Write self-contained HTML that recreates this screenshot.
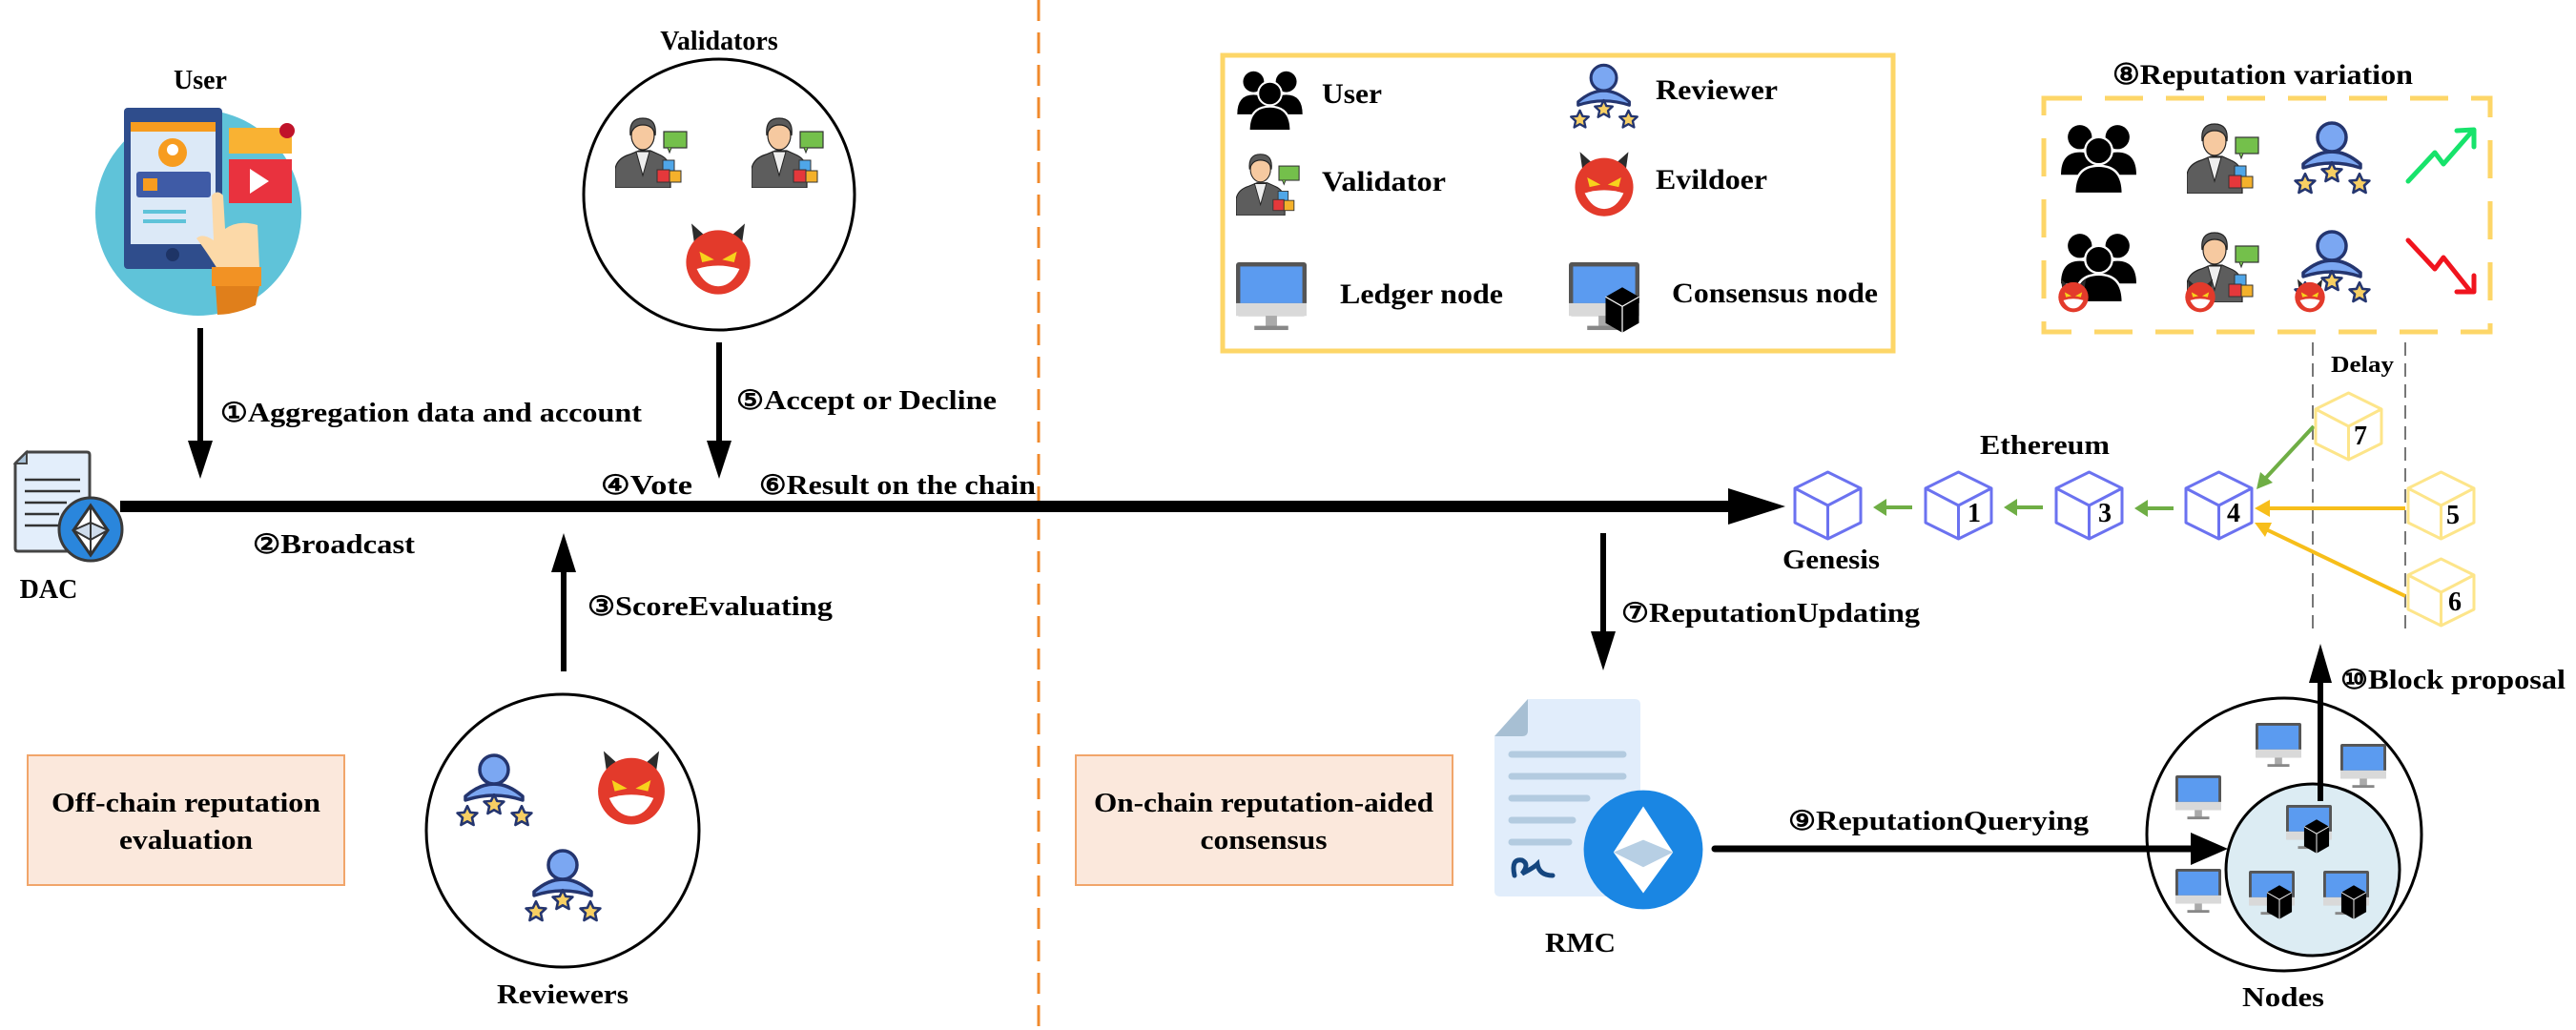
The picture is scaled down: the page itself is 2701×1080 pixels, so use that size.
<!DOCTYPE html>
<html><head><meta charset="utf-8"><style>
html,body{margin:0;padding:0;background:#fff;}
svg{display:block;}
svg text{font-family:"Liberation Serif","Times New Roman","DejaVu Serif",serif !important;font-weight:bold;fill:#000;}
</style></head><body>
<svg width="2701" height="1080" viewBox="0 0 2701 1080" xmlns="http://www.w3.org/2000/svg" font-family="Liberation Serif, serif" font-weight="bold">
<defs>
<symbol id="star" viewBox="-12 -12 24 24"><polygon points="0,-10 2.9,-3.8 9.6,-3.2 4.6,1.4 6.1,8.3 0,4.8 -6.1,8.3 -4.6,1.4 -9.6,-3.2 -2.9,-3.8" fill="#f7cf63" stroke="#24356f" stroke-width="2.4" stroke-linejoin="round"/></symbol>
<symbol id="rev" viewBox="0 0 85 85">
<path d="M12 50 Q42 24 72 50 L72 54 Q42 44 12 54Z" fill="#7ba7f2" stroke="#24356f" stroke-width="3.5" stroke-linejoin="round"/>
<circle cx="42" cy="22" r="15" fill="#7ba7f2" stroke="#24356f" stroke-width="3.5"/>
<use href="#star" x="1" y="58" width="26" height="26"/>
<use href="#star" x="29" y="46" width="26" height="26"/>
<use href="#star" x="58" y="58" width="26" height="26"/>
</symbol>
<symbol id="val" viewBox="0 0 77 75">
<path d="M0 75 L0 55 Q2 44 15 40 L25 36 L37 36 L46 40 Q56 44 58 55 L58 75Z" fill="#5d5d5d" stroke="#222" stroke-width="1.2"/>
<path d="M22 37 L29 62 L36 37Z" fill="#eee" stroke="#222" stroke-width="1"/>
<ellipse cx="29" cy="20" rx="12" ry="15" fill="#f6c9a0" stroke="#222" stroke-width="1.2"/>
<path d="M16 20 Q14 2 29 2 Q44 2 42 20 Q40 9 29 9 Q19 9 16 20Z" fill="#5a5a5a" stroke="#222" stroke-width="1.2"/>
<rect x="51" y="16" width="24" height="17" fill="#74c04b" stroke="#333" stroke-width="1.2"/>
<path d="M55 33 L57 38 L59 33" fill="#74c04b" stroke="#333" stroke-width="1"/>
<rect x="50" y="46" width="12" height="12" fill="#4fa6e8" stroke="#333" stroke-width="1"/>
<rect x="44" y="56" width="13" height="13" fill="#e5383b" stroke="#333" stroke-width="1"/>
<rect x="57" y="57" width="12" height="12" fill="#f4b12b" stroke="#333" stroke-width="1"/>
</symbol>
<symbol id="devil" viewBox="0 0 100 110">
<path d="M14 30 L10 2 L30 20Z" fill="#2b2b2b"/><path d="M86 30 L90 2 L70 20Z" fill="#2b2b2b"/>
<circle cx="50" cy="60" r="48" fill="#e33a2b"/>
<path d="M22 44 L44 56 L26 60Z" fill="#f7d21c"/><path d="M78 44 L56 56 L74 60Z" fill="#f7d21c"/>
<path d="M18 70 Q50 60 82 70 Q70 96 50 96 Q30 96 18 70Z" fill="#fff"/>
</symbol>
<symbol id="users" viewBox="0 0 100 95">
<circle cx="25" cy="20" r="16" fill="#000"/><circle cx="75" cy="20" r="16" fill="#000"/>
<path d="M0 70 Q0 40 25 40 Q50 40 50 70Z" fill="#000"/><path d="M50 70 Q50 40 75 40 Q100 40 100 70Z" fill="#000"/>
<circle cx="50" cy="38" r="18" fill="#000" stroke="#fff" stroke-width="3"/>
<path d="M18 95 Q18 58 50 58 Q82 58 82 95Z" fill="#000" stroke="#fff" stroke-width="3"/>
</symbol>
<symbol id="mon" viewBox="0 0 50 50">
<rect x="0" y="0" width="50" height="38" rx="2" fill="#555"/>
<rect x="3" y="3" width="44" height="26" fill="#5b9bf0"/>
<rect x="0" y="29" width="50" height="9" fill="#d9d9d9"/>
<rect x="21" y="38" width="8" height="8" fill="#aaa"/>
<rect x="13" y="45" width="24" height="3" fill="#888"/>
</symbol>
<symbol id="bcube" viewBox="0 0 30 40">
<path d="M15 1 L29 9 L29 31 L15 39 L1 31 L1 9Z" fill="#000"/>
<path d="M1 9 L15 17 L29 9 M15 17 L15 39" stroke="#fff" stroke-width="1" fill="none"/>
</symbol>
<symbol id="cube" viewBox="0 0 73 74">
<path d="M36.5 2 L71 19 L71 55 L36.5 72 L2 55 L2 19Z M2 19 L36.5 37 L71 19 M36.5 37 L36.5 72" fill="none" stroke-width="3" stroke-linejoin="round"/>
</symbol>
<symbol id="eth" viewBox="-50 -50 100 100">
<circle r="48" fill="#1a86e3"/>
<path d="M0 -35 L24 2 L0 35 L-24 2Z" fill="#fff"/>
<path d="M-24 2 L0 -8 L24 2 L0 14Z" fill="#b7cfe4"/>
</symbol>
</defs>

<line x1="1089" y1="0" x2="1089" y2="1080" stroke="#f08a2c" stroke-width="3" stroke-dasharray="22,12"/>

<!-- User -->
<text x="210" y="93" font-size="28" text-anchor="middle">User</text>
<circle cx="208" cy="223" r="108" fill="#5fc3d9"/>
<rect x="130" y="113" width="103" height="169" rx="4" fill="#2f4d8c"/>
<rect x="137" y="128" width="89" height="128" fill="#dce9f7"/>
<rect x="137" y="128" width="89" height="10" fill="#f79c1f"/>
<circle cx="181" cy="160" r="15" fill="#f79c1f"/><circle cx="181" cy="157" r="6" fill="#fff"/>
<rect x="143" y="180" width="78" height="27" rx="3" fill="#3f5ba6"/>
<rect x="150" y="187" width="15" height="13" fill="#f79c1f"/>
<rect x="150" y="220" width="45" height="4" fill="#5fc3d9"/><rect x="150" y="230" width="45" height="4" fill="#5fc3d9"/>
<circle cx="181" cy="267" r="7" fill="#1e3466"/>
<rect x="240" y="134" width="66" height="27" fill="#f9b233"/>
<circle cx="301" cy="137" r="8" fill="#c0132a"/>
<rect x="240" y="167" width="66" height="46" fill="#e9323e"/>
<path d="M262 177 L282 190 L262 203Z" fill="#fff"/>
<path d="M222 205 Q228 198 234 205 L236 240 Q250 230 270 236 L272 280 L228 282 Q214 260 206 250 Q212 244 224 252Z" fill="#fcd9a8"/>
<rect x="222" y="280" width="52" height="20" fill="#f29224"/>
<path d="M226 300 L272 300 L268 320 Q246 330 228 330Z" fill="#e07f1b"/>

<line x1="210" y1="344" x2="210" y2="466" stroke="#000" stroke-width="6"/>
<path d="M197 462 L223 462 L210 502Z" fill="#000"/>
<text x="231" y="442" font-size="28" textLength="442" lengthAdjust="spacingAndGlyphs">①Aggregation data and account</text>

<!-- DAC -->
<path d="M28 474 L91 474 Q94 474 94 477 L94 578 L19 578 Q16 578 16 575 L16 486Z" fill="#e3eefb" stroke="#444" stroke-width="3"/>
<path d="M16 486 L28 474 L28 486Z" fill="#a7c0d6" stroke="#444" stroke-width="2"/>
<line x1="26" y1="503" x2="84" y2="503" stroke="#333" stroke-width="2.5"/>
<line x1="26" y1="515" x2="84" y2="515" stroke="#333" stroke-width="2.5"/>
<line x1="26" y1="527" x2="70" y2="527" stroke="#333" stroke-width="2.5"/>
<line x1="26" y1="539" x2="62" y2="539" stroke="#333" stroke-width="2.5"/>
<line x1="26" y1="551" x2="62" y2="551" stroke="#333" stroke-width="2.5"/>
<circle cx="95" cy="555" r="33" fill="#2a86dc" stroke="#3a3a3a" stroke-width="3"/>
<path d="M95 530 L113 556 L95 582 L77 556Z" fill="#fff" stroke="#333" stroke-width="3"/>
<path d="M77 556 L95 548 L113 556 L95 566Z M95 530 L95 582" fill="#cfdceb" stroke="#333" stroke-width="2"/>
<text x="51" y="627" font-size="28" text-anchor="middle">DAC</text>

<line x1="126" y1="531" x2="1815" y2="531" stroke="#000" stroke-width="12"/>
<path d="M1812 512 L1872 531 L1812 550Z" fill="#000"/>
<text x="265" y="580" font-size="28" textLength="170" lengthAdjust="spacingAndGlyphs">②Broadcast</text>
<text x="630" y="518" font-size="28" textLength="96" lengthAdjust="spacingAndGlyphs">④Vote</text>
<text x="796" y="518" font-size="28" textLength="290" lengthAdjust="spacingAndGlyphs">⑥Result on the chain</text>

<!-- Validators -->
<text x="754" y="52" font-size="28" text-anchor="middle">Validators</text>
<circle cx="754" cy="204" r="142" fill="none" stroke="#000" stroke-width="3"/>
<use href="#val" x="645" y="122" width="77" height="75"/>
<use href="#val" x="788" y="122" width="77" height="75"/>
<use href="#devil" x="715" y="233" width="76" height="77"/>
<line x1="754" y1="359" x2="754" y2="465" stroke="#000" stroke-width="6"/>
<path d="M741 462 L767 462 L754 502Z" fill="#000"/>
<text x="772" y="429" font-size="28" textLength="273" lengthAdjust="spacingAndGlyphs">⑤Accept or Decline</text>

<!-- Reviewers -->
<line x1="591" y1="704" x2="591" y2="598" stroke="#000" stroke-width="6"/>
<path d="M578 600 L604 600 L591 559Z" fill="#000"/>
<text x="616" y="645" font-size="28" textLength="257" lengthAdjust="spacingAndGlyphs">③ScoreEvaluating</text>
<circle cx="590" cy="871" r="143" fill="none" stroke="#000" stroke-width="3"/>
<use href="#rev" x="476" y="785" width="85" height="85"/>
<use href="#rev" x="548" y="885" width="85" height="85"/>
<use href="#devil" x="624" y="786" width="76" height="80"/>
<text x="590" y="1052" font-size="28" text-anchor="middle" textLength="138" lengthAdjust="spacingAndGlyphs">Reviewers</text>

<rect x="29" y="792" width="332" height="136" fill="#fbe8dc" stroke="#f1a56a" stroke-width="2"/>
<text x="195" y="851" font-size="28" text-anchor="middle" textLength="282" lengthAdjust="spacingAndGlyphs">Off-chain reputation</text>
<text x="195" y="890" font-size="28" text-anchor="middle" textLength="140" lengthAdjust="spacingAndGlyphs">evaluation</text>

<!-- Legend -->
<rect x="1282" y="58" width="703" height="310" fill="none" stroke="#fdd668" stroke-width="5"/>
<use href="#users" x="1294" y="72" width="75" height="65"/>
<text x="1386" y="108" font-size="30" textLength="63" lengthAdjust="spacingAndGlyphs">User</text>
<use href="#rev" x="1644" y="62" width="76" height="76"/>
<text x="1736" y="104" font-size="30" textLength="128" lengthAdjust="spacingAndGlyphs">Reviewer</text>
<use href="#val" x="1296" y="160" width="68" height="66"/>
<text x="1386" y="200" font-size="30" textLength="130" lengthAdjust="spacingAndGlyphs">Validator</text>
<use href="#devil" x="1649" y="158" width="66" height="70"/>
<text x="1736" y="198" font-size="30" textLength="117" lengthAdjust="spacingAndGlyphs">Evildoer</text>
<use href="#mon" x="1295" y="275" width="76" height="74"/>
<text x="1405" y="318" font-size="30" textLength="171" lengthAdjust="spacingAndGlyphs">Ledger node</text>
<use href="#mon" x="1644" y="275" width="76" height="74"/>
<use href="#bcube" x="1682" y="300" width="38" height="50"/>
<text x="1753" y="317" font-size="30" textLength="216" lengthAdjust="spacingAndGlyphs">Consensus node</text>

<!-- Reputation variation -->
<text x="2215" y="88" font-size="30" textLength="315" lengthAdjust="spacingAndGlyphs">⑧Reputation variation</text>
<rect x="2143" y="103" width="468" height="245" fill="none" stroke="#fdd668" stroke-width="5" stroke-dasharray="40,24"/>
<use href="#users" x="2157" y="128" width="87" height="75"/>
<use href="#val" x="2293" y="128" width="77" height="75"/>
<use href="#rev" x="2403" y="122" width="85" height="85"/>
<path d="M2525 190 L2553 160 L2562 172 L2590 140" fill="none" stroke="#17e36b" stroke-width="5" stroke-linecap="round" stroke-linejoin="round"/>
<path d="M2576 137 L2594 136 L2594 154" fill="none" stroke="#17e36b" stroke-width="5" stroke-linecap="round" stroke-linejoin="round"/>
<use href="#users" x="2157" y="242" width="87" height="75"/>
<use href="#devil" x="2157" y="292" width="34" height="36"/>
<use href="#val" x="2293" y="242" width="77" height="75"/>
<use href="#devil" x="2290" y="292" width="34" height="36"/>
<use href="#rev" x="2403" y="236" width="85" height="85"/>
<use href="#devil" x="2405" y="292" width="34" height="36"/>
<path d="M2525 252 L2553 282 L2562 270 L2590 305" fill="none" stroke="#f0141e" stroke-width="5" stroke-linecap="round" stroke-linejoin="round"/>
<path d="M2576 306 L2594 306 L2594 289" fill="none" stroke="#f0141e" stroke-width="5" stroke-linecap="round" stroke-linejoin="round"/>

<line x1="2425" y1="359" x2="2425" y2="665" stroke="#777" stroke-width="2" stroke-dasharray="14,8"/>
<line x1="2522" y1="359" x2="2522" y2="665" stroke="#777" stroke-width="2" stroke-dasharray="14,8"/>
<text x="2477" y="390" font-size="24" text-anchor="middle" textLength="66" lengthAdjust="spacingAndGlyphs">Delay</text>

<!-- Chain -->
<text x="2144" y="476" font-size="28" text-anchor="middle" textLength="136" lengthAdjust="spacingAndGlyphs">Ethereum</text>
<use href="#cube" x="1880" y="493" width="73" height="74" stroke="#6b72f0"/>
<use href="#cube" x="2017" y="493" width="73" height="74" stroke="#6b72f0"/>
<use href="#cube" x="2154" y="493" width="73" height="74" stroke="#6b72f0"/>
<use href="#cube" x="2290" y="493" width="73" height="74" stroke="#6b72f0"/>
<text x="2070" y="547" font-size="28" text-anchor="middle">1</text>
<text x="2207" y="547" font-size="28" text-anchor="middle">3</text>
<text x="2342" y="547" font-size="28" text-anchor="middle">4</text>
<text x="1920" y="596" font-size="28" text-anchor="middle" textLength="102" lengthAdjust="spacingAndGlyphs">Genesis</text>
<g stroke="#6fae45" stroke-width="4" fill="#6fae45">
<line x1="2005" y1="532" x2="1975" y2="532"/><path d="M1964 532 L1978 523 L1978 541Z" stroke="none"/>
<line x1="2142" y1="532" x2="2112" y2="532"/><path d="M2101 532 L2115 523 L2115 541Z" stroke="none"/>
<line x1="2279" y1="533" x2="2249" y2="533"/><path d="M2238 533 L2252 524 L2252 542Z" stroke="none"/>
<line x1="2426" y1="447" x2="2374" y2="503"/><path d="M2366 513 L2370 495 L2383 506Z" stroke="none"/>
</g>
<use href="#cube" x="2426" y="410" width="73" height="74" stroke="#fde58a"/>
<use href="#cube" x="2523" y="493" width="73" height="74" stroke="#fde58a"/>
<use href="#cube" x="2523" y="584" width="73" height="74" stroke="#fde58a"/>
<text x="2475" y="466" font-size="28" text-anchor="middle">7</text>
<text x="2572" y="549" font-size="28" text-anchor="middle">5</text>
<text x="2574" y="640" font-size="28" text-anchor="middle">6</text>
<g stroke="#f7be1a" stroke-width="4" fill="#f7be1a">
<line x1="2522" y1="533" x2="2378" y2="533"/><path d="M2364 533 L2380 524 L2380 542Z" stroke="none"/>
<line x1="2522" y1="625" x2="2378" y2="556"/><path d="M2364 548 L2382 548 L2375 563Z" stroke="none"/>
</g>

<line x1="1681" y1="559" x2="1681" y2="666" stroke="#000" stroke-width="6"/>
<path d="M1668 662 L1694 662 L1681 703Z" fill="#000"/>
<text x="1700" y="652" font-size="28" textLength="313" lengthAdjust="spacingAndGlyphs">⑦ReputationUpdating</text>

<!-- RMC -->
<path d="M1602 733 L1714 733 Q1720 733 1720 739 L1720 940 L1573 940 Q1567 940 1567 934 L1567 772Z" fill="#e1edfb"/>
<path d="M1567 772 L1602 733 L1602 766 Q1602 772 1596 772Z" fill="#a7bfd3"/>
<g stroke="#b3cbe0" stroke-width="7" stroke-linecap="round">
<line x1="1585" y1="791" x2="1702" y2="791"/><line x1="1585" y1="814" x2="1702" y2="814"/>
<line x1="1585" y1="837" x2="1664" y2="837"/><line x1="1585" y1="860" x2="1649" y2="860"/>
<line x1="1585" y1="883" x2="1645" y2="883"/></g>
<path d="M1588 918 Q1584 900 1596 902 Q1604 906 1596 916 Q1608 910 1612 906 Q1614 918 1628 918" fill="none" stroke="#15467f" stroke-width="5" stroke-linecap="round"/>
<use href="#eth" x="1658" y="826" width="130" height="130"/>
<text x="1657" y="998" font-size="28" text-anchor="middle" textLength="74" lengthAdjust="spacingAndGlyphs">RMC</text>
<line x1="1798" y1="890" x2="2300" y2="890" stroke="#000" stroke-width="7" stroke-linecap="round"/>
<path d="M2297 873 L2336 890 L2297 907Z" fill="#000"/>
<text x="1875" y="870" font-size="28" textLength="315" lengthAdjust="spacingAndGlyphs">⑨ReputationQuerying</text>

<rect x="1128" y="792" width="395" height="136" fill="#fbe8dc" stroke="#f1a56a" stroke-width="2"/>
<text x="1325" y="851" font-size="28" text-anchor="middle" textLength="356" lengthAdjust="spacingAndGlyphs">On-chain reputation-aided</text>
<text x="1325" y="890" font-size="28" text-anchor="middle" textLength="133" lengthAdjust="spacingAndGlyphs">consensus</text>

<!-- Nodes -->
<ellipse cx="2395" cy="875" rx="144" ry="143" fill="none" stroke="#000" stroke-width="3"/>
<ellipse cx="2425" cy="912" rx="91" ry="90" fill="#dcecf3" stroke="#000" stroke-width="3"/>
<use href="#mon" x="2365" y="758" width="48" height="48"/>
<use href="#mon" x="2454" y="780" width="48" height="48"/>
<use href="#mon" x="2281" y="813" width="48" height="48"/>
<use href="#mon" x="2281" y="911" width="48" height="48"/>
<use href="#mon" x="2397" y="844" width="48" height="48"/>
<use href="#bcube" x="2415" y="857" width="28" height="40"/>
<use href="#mon" x="2358" y="913" width="48" height="48"/>
<use href="#bcube" x="2376" y="926" width="28" height="40"/>
<use href="#mon" x="2436" y="913" width="48" height="48"/>
<use href="#bcube" x="2454" y="926" width="28" height="40"/>
<line x1="2433" y1="840" x2="2433" y2="712" stroke="#000" stroke-width="6"/>
<path d="M2421 716 L2445 716 L2433 675Z" fill="#000"/>
<text x="2454" y="722" font-size="28" textLength="236" lengthAdjust="spacingAndGlyphs">⑩Block proposal</text>
<text x="2394" y="1055" font-size="28" text-anchor="middle" textLength="86" lengthAdjust="spacingAndGlyphs">Nodes</text>
</svg>
</body></html>
